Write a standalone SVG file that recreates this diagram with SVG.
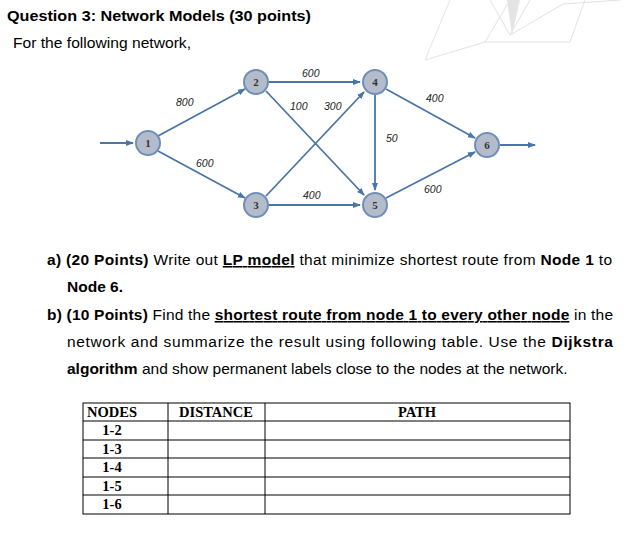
<svg xmlns="http://www.w3.org/2000/svg" width="627" height="536" viewBox="0 0 627 536">
<style>
.t{font-family:"Liberation Sans",Arial,sans-serif;font-size:15.5px;fill:#000}
.b{font-weight:bold}
.u{text-decoration:underline}
.n circle{fill:#b4bccb;stroke:#6f8fb8;stroke-width:2}
.n text{font-family:"Liberation Serif",serif;font-size:11px;font-weight:bold;fill:#333;text-anchor:middle}
.e line{stroke:#4a75a8;stroke-width:1.8;marker-end:url(#a)}
.l{font-family:"Liberation Sans",Arial,sans-serif;font-size:10.5px;font-style:italic;fill:#222}
.tb{font-family:"Liberation Serif",serif;font-size:14.5px;font-weight:bold;text-anchor:middle}
.g{stroke:#000;stroke-width:1;fill:none}
.d{stroke:#e2e2e2;stroke-width:1;fill:none}
</style>
<defs><marker id="a" markerWidth="8" markerHeight="8" refX="7" refY="4" orient="auto" markerUnits="userSpaceOnUse"><path d="M0,1 L8,4 L0,7 Z" fill="#4a75a8"/></marker></defs>
<rect width="627" height="536" fill="#fff"/>
<g id="decor">
<path class="d" d="M425,60 L485,42 L570,42 L585,0 M425,60 L450,0 M485,42 L510,0 M510,35 L530,0 M510,35 L563,4 L620,0 M510,35 L490,0"/>
<path d="M507,0 L512,35 L520,0 Z" fill="#e4e4e4"/>
</g>
<text class="t b" x="7" y="21" textLength="304" lengthAdjust="spacingAndGlyphs">Question 3: Network Models (30 points)</text>
<text class="t" x="13" y="48" textLength="178" lengthAdjust="spacingAndGlyphs">For the following network,</text>
<g id="connectors" class="e">
<line x1="100" y1="143" x2="133" y2="143"/>
<line x1="158" y1="136" x2="245" y2="89"/>
<line x1="158" y1="151" x2="245" y2="198"/>
<line x1="269" y1="82" x2="360" y2="82"/>
<line x1="266" y1="91" x2="364" y2="195"/>
<line x1="266" y1="196" x2="364" y2="92"/>
<line x1="269" y1="205" x2="360" y2="205"/>
<line x1="375" y1="95" x2="375" y2="190"/>
<line x1="386" y1="89" x2="475" y2="138"/>
<line x1="386" y1="198" x2="475" y2="152"/>
<line x1="500" y1="145" x2="535" y2="145"/>
</g>
<g id="labels">
<text class="l" x="176" y="106">800</text>
<text class="l" x="196" y="167">600</text>
<text class="l" x="302" y="77">600</text>
<text class="l" x="290" y="110">100</text>
<text class="l" x="324" y="110">300</text>
<text class="l" x="386" y="142">50</text>
<text class="l" x="426" y="102">400</text>
<text class="l" x="303" y="199">400</text>
<text class="l" x="424" y="193">600</text>
</g>
<g id="node1" class="n"><circle cx="148" cy="143" r="12"/><text x="148" y="147">1</text></g>
<g id="node2" class="n"><circle cx="256" cy="82" r="12"/><text x="256" y="86">2</text></g>
<g id="node3" class="n"><circle cx="256" cy="205" r="12"/><text x="256" y="209">3</text></g>
<g id="node4" class="n"><circle cx="375" cy="82" r="12"/><text x="375" y="86">4</text></g>
<g id="node5" class="n"><circle cx="375" cy="205" r="12"/><text x="375" y="209">5</text></g>
<g id="node6" class="n"><circle cx="487" cy="145" r="12"/><text x="487" y="149">6</text></g>
<text class="t" x="47" y="265" textLength="565" lengthAdjust="spacing"><tspan class="b">a)  (20 Points)</tspan> Write out <tspan class="b u">LP model</tspan> that minimize shortest route from <tspan class="b">Node 1</tspan> to</text>
<text class="t b" x="67" y="292">Node 6.</text>
<text class="t" x="47" y="320" textLength="566" lengthAdjust="spacing"><tspan class="b">b)  (10 Points)</tspan> Find the <tspan class="b u">shortest route from node 1 to every other node</tspan> in the</text>
<text class="t" x="67" y="347" textLength="546" lengthAdjust="spacing">network and summarize the result using following table. Use the <tspan class="b">Dijkstra</tspan></text>
<text class="t" x="67" y="374"><tspan class="b">algorithm</tspan> and show permanent labels close to the nodes at the network.</text>
<g id="table">
<rect class="g" x="83" y="403" width="487" height="111"/>
<path class="g" d="M168,403 V514 M265,403 V514 M83,421 H570 M83,440 H570 M83,458 H570 M83,477 H570 M83,495 H570"/>
<text class="tb" x="112" y="417">NODES</text>
<text class="tb" x="216" y="417">DISTANCE</text>
<text class="tb" x="417" y="417">PATH</text>
<text class="tb" x="112" y="435">1-2</text>
<text class="tb" x="112" y="454">1-3</text>
<text class="tb" x="112" y="472">1-4</text>
<text class="tb" x="112" y="491">1-5</text>
<text class="tb" x="112" y="509">1-6</text>
</g>
</svg>
